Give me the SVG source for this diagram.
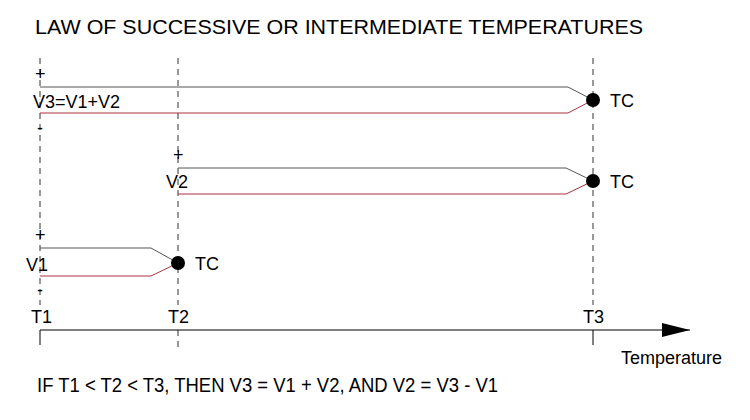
<svg xmlns="http://www.w3.org/2000/svg" width="750" height="420" viewBox="0 0 750 420">
<style>
text{font-family:"Liberation Sans",Arial,sans-serif;fill:#000}
.t{font-size:18px}
.dash{stroke:#333;stroke-width:1;stroke-dasharray:6,5;fill:none}
.pos{stroke:#555;stroke-width:1;fill:none}
.neg{stroke:#b03040;stroke-width:1;fill:none}
.ax{stroke:#000;stroke-width:1;fill:none}
</style>
<defs>
<marker id="arr" markerWidth="28" markerHeight="16" refX="28" refY="8" orient="auto" markerUnits="userSpaceOnUse">
<path d="M0,1 L28,8 L0,15 Z" fill="#000"/>
</marker>
</defs>
<rect width="750" height="420" fill="#fff"/>
<text x="35" y="34" font-size="21" textLength="608" lengthAdjust="spacingAndGlyphs">LAW OF SUCCESSIVE OR INTERMEDIATE TEMPERATURES</text>
<g id="connectors">
<line class="dash" x1="40" y1="58" x2="40" y2="305"/>
<line class="dash" x1="178" y1="58" x2="178" y2="305"/>
<line class="dash" x1="593" y1="58" x2="593" y2="305"/>
<line class="ax" x1="40" y1="330" x2="40" y2="345"/>
<line class="dash" x1="178" y1="330" x2="178" y2="348"/>
<line class="ax" x1="593" y1="330" x2="593" y2="345"/>
<line class="ax" x1="40" y1="330" x2="690" y2="330" marker-end="url(#arr)"/>
</g>
<g id="loop3">
<polyline class="pos" points="40,87 568,87 593,100"/>
<polyline class="neg" points="40,113 568,113 593,100"/>
<circle cx="593" cy="100" r="7" fill="#000"/>
<text class="t" x="610" y="107">TC</text>
<text class="t" x="33" y="108">V3=V1+V2</text>
<text class="t" x="35" y="80">+</text>
<text class="t" x="37" y="134">-</text>
</g>
<g id="loop2">
<polyline class="pos" points="178,168 566,168 593,181"/>
<polyline class="neg" points="178,194 566,194 593,181"/>
<circle cx="593" cy="181" r="7" fill="#000"/>
<text class="t" x="610" y="188">TC</text>
<text class="t" x="166" y="188">V2</text>
<text class="t" x="173" y="161">+</text>
</g>
<g id="loop1">
<polyline class="pos" points="40,248 151,248 178,263"/>
<polyline class="neg" points="40,276 151,276 178,263"/>
<circle cx="178" cy="263" r="7" fill="#000"/>
<text class="t" x="195" y="270">TC</text>
<text class="t" x="26" y="271">V1</text>
<text class="t" x="35" y="241">+</text>
<text class="t" x="37" y="296">-</text>
</g>
<g id="labels">
<text class="t" x="31" y="323">T1</text>
<text class="t" x="168" y="323">T2</text>
<text class="t" x="583" y="323">T3</text>
<text x="621" y="364" font-size="18">Temperature</text>
<text x="37" y="392" font-size="20" textLength="461" lengthAdjust="spacingAndGlyphs">IF T1 &lt; T2 &lt; T3, THEN V3 = V1 + V2, AND V2 = V3 - V1</text>
</g>
</svg>
